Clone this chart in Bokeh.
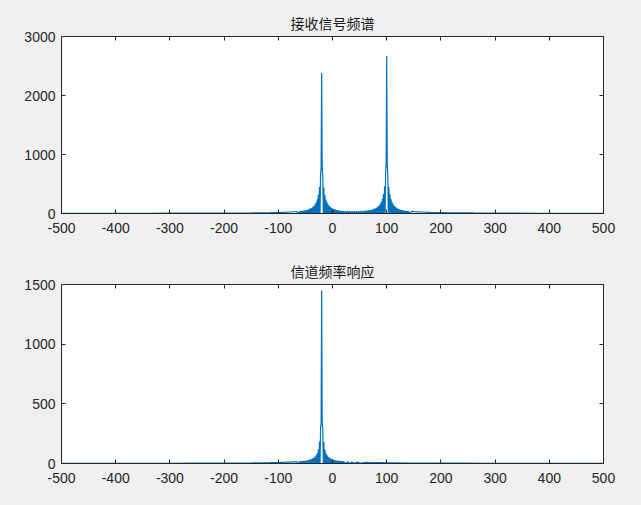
from bokeh.plotting import figure
from bokeh.layouts import column
from bokeh.models import Range1d, LinearAxis, FixedTicker, PrintfTickFormatter, CustomJSTickFormatter
from bokeh.embed import file_html
from bokeh.resources import INLINE

# ---------------- data ----------------
x_ticks = [-500, -400, -300, -200, -100, 0, 100, 200, 300, 400, 500]
y_ticks_top = [0, 1000, 2000, 3000]
y_ticks_bottom = [0, 500, 1000, 1500]
title_top = "接收信号频谱"
title_bottom = "信道频率响应"

# received signal spectrum (frequency in Hz, magnitude)
freq_rx = [-500, -460, -420, -380, -340, -300, -260, -220, -180, -150, -130, -115, -105, -96, -90, -84, -78, -74, -70, -66, -63,
           -60, -59, -58, -57, -56, -55, -54, -53, -52, -51, -50, -49, -48, -47, -46, -45, -44, -43, -42, -41,
           -40, -39, -38, -37, -36, -35, -34, -33, -32, -31, -30, -29, -28, -27, -26, -25, -24, -23, -22, -21,
           -20, -19, -18, -17, -16, -15, -14, -13, -12, -11, -10, -9, -8, -7, -6, -5, -4, -3, -2, -1,
           0, 1, 2, 3, 4, 5, 6, 7, 8, 9, 10, 11, 12, 13, 14, 15, 16, 17, 18, 19, 20,
           22, 24, 26, 28, 30, 32, 34, 36, 38, 40, 42, 44, 46, 48, 50, 52, 54, 56, 58,
           60, 61, 62, 63, 64, 65, 66, 67, 68, 69, 70, 71, 72, 73, 74, 75, 76, 77, 78, 79,
           80, 81, 82, 83, 84, 85, 86, 87, 88, 89, 90, 91, 92, 93, 94, 95, 96, 97, 98, 99,
           100, 101, 102, 103, 104, 105, 106, 107, 108, 109, 110, 111, 112, 113, 114, 115, 116, 117, 118, 119,
           120, 121, 122, 123, 124, 125, 126, 127, 128, 129, 130, 131, 132, 133, 134, 135, 136, 137, 138, 139, 140,
           142, 146, 150, 156, 162, 170, 180, 195, 210, 230, 260, 300, 340, 380, 420, 460, 500]
mag_rx = [3, 3, 3, 4, 4, 5, 5, 6, 8, 10, 12, 14, 16, 18, 20, 22, 25, 27, 30, 33, 2,
          39, 2, 41, 2, 44, 2, 47, 2, 50, 3, 54, 3, 58, 3, 64, 3, 70, 4, 78, 4,
          86, 4, 98, 5, 112, 5, 130, 6, 155, 6, 190, 7, 240, 8, 320, 9, 450, 10, 650, 780,
          2380, 760, 640, 10, 440, 9, 315, 8, 235, 7, 185, 6, 150, 6, 128, 5, 110, 5, 96, 4,
          85, 4, 76, 4, 69, 3, 62, 3, 57, 3, 53, 3, 49, 2, 46, 2, 43, 2, 41, 2, 40,
          3, 42, 2, 41, 2, 40, 2, 40, 2, 40, 2, 40, 2, 41, 2, 42, 2, 43, 3,
          45, 3, 47, 3, 49, 3, 52, 3, 55, 3, 58, 4, 62, 4, 68, 4, 74, 5, 82, 5,
          90, 5, 102, 6, 116, 6, 135, 7, 160, 7, 195, 8, 250, 9, 330, 10, 460, 11, 680, 850,
          2670, 830, 670, 11, 455, 10, 325, 9, 245, 8, 190, 7, 155, 6, 130, 6, 112, 5, 97, 5,
          85, 4, 77, 4, 70, 4, 63, 3, 58, 3, 53, 3, 49, 3, 46, 2, 43, 2, 41, 2, 39,
          2, 36, 33, 29, 26, 23, 20, 17, 14, 12, 9, 7, 5, 4, 4, 3, 3]

# channel frequency response
freq_ch = [-500, -460, -420, -380, -340, -300, -260, -220, -180, -150, -130, -115, -105, -96, -90, -84, -78, -74, -70, -66, -63,
           -60, -59, -58, -57, -56, -55, -54, -53, -52, -51, -50, -49, -48, -47, -46, -45, -44, -43, -42, -41,
           -40, -39, -38, -37, -36, -35, -34, -33, -32, -31, -30, -29, -28, -27, -26, -25, -24, -23, -22, -21,
           -20, -19, -18, -17, -16, -15, -14, -13, -12, -11, -10, -9, -8, -7, -6, -5, -4, -3, -2, -1,
           0, 1, 2, 3, 4, 5, 6, 7, 8, 9, 10, 11, 12, 13, 14, 15, 16, 17, 18, 19, 20,
           24, 28, 32, 36, 40, 46, 52, 60, 70, 85, 100, 120, 150, 190, 240, 300, 360, 420, 470, 500]
mag_ch = [1, 1, 1, 2, 2, 2, 3, 3, 4, 5, 6, 7, 8, 9, 10, 11, 12, 13, 14, 15, 1,
          18, 1, 19, 1, 20, 1, 21, 1, 22, 1, 23, 1, 25, 1, 27, 2, 29, 2, 32, 2,
          35, 2, 39, 2, 44, 2, 50, 3, 58, 3, 70, 3, 88, 4, 120, 4, 185, 5, 300, 340,
          1450, 330, 295, 5, 180, 4, 118, 4, 86, 3, 68, 3, 57, 3, 49, 2, 43, 2, 38, 2,
          34, 2, 31, 2, 28, 2, 26, 1, 24, 1, 22, 1, 21, 1, 20, 1, 19, 1, 18, 1, 17,
          1, 15, 1, 13, 1, 11, 1, 9, 8, 7, 6, 5, 4, 3, 3, 2, 2, 2, 1, 1]

# ---------------- styling ----------------
BG = "#F0F0F0"
AX = "#262626"
LINE = "#0072BD"
TICK_FONT = "Liberation Sans"
TITLE_FONT = "Noto Sans CJK SC"


def make_panel(xs, ys, yticks, ymax, title, border_top, border_bottom, frame_h):
    p = figure(output_backend="svg", toolbar_location=None,
               frame_width=542, frame_height=frame_h,
               min_border_left=61, min_border_right=30,
               min_border_top=border_top, min_border_bottom=border_bottom,
               x_range=Range1d(-500, 500), y_range=Range1d(0, ymax),
               background_fill_color="white", border_fill_color=BG,
               outline_line_color=AX, outline_line_width=1)
    p.title.text = title
    p.title.align = "center"
    p.title.text_font = TITLE_FONT
    p.title.text_font_size = "14px"
    p.title.text_font_style = "normal"
    p.title.text_color = "#1a1a1a"
    p.title.standoff = 8
    p.grid.visible = False
    p.line(xs, ys, line_color=LINE, line_width=1.2)

    for ax, ticks in ((p.xaxis[0], x_ticks), (p.yaxis[0], yticks)):
        ax.ticker = FixedTicker(ticks=ticks)
        ax.formatter = PrintfTickFormatter(format="%d")
        ax.axis_line_color = AX
        ax.major_tick_line_color = AX
        ax.major_tick_in = 4
        ax.major_tick_out = 0
        ax.minor_tick_line_color = None
        ax.major_label_text_font = TICK_FONT
        ax.major_label_text_font_size = "14px"
        ax.major_label_text_color = AX
    p.xaxis.major_label_standoff = 9
    p.yaxis.major_label_standoff = 6

    blank = CustomJSTickFormatter(code="return ''")
    top_ax = LinearAxis(ticker=FixedTicker(ticks=x_ticks), formatter=blank, axis_line_color=None,
                        major_tick_line_color=AX, major_tick_in=4, major_tick_out=0,
                        minor_tick_line_color=None, major_label_standoff=0)
    right_ax = LinearAxis(ticker=FixedTicker(ticks=yticks), formatter=blank, axis_line_color=None,
                          major_tick_line_color=AX, major_tick_in=4, major_tick_out=0,
                          minor_tick_line_color=None, major_label_standoff=0)
    p.add_layout(top_ax, "above")
    p.add_layout(right_ax, "right")
    return p


p1 = make_panel(freq_rx, mag_rx, y_ticks_top, 3000, title_top, 36, 35, 177)
p2 = make_panel(freq_ch, mag_ch, y_ticks_bottom, 1500, title_bottom, 36, 34, 179)

layout = column(p1, p2, spacing=0, styles={"background-color": BG})

html = file_html(layout, INLINE, title="plot")
css = ("<style>html, body { margin: 0 !important; padding: 0 !important; "
       "background-color: #F0F0F0 !important; }</style>")
idx = html.rfind("</head>")
html = html[:idx] + css + html[idx:]
open("out.html", "w").write(html)
